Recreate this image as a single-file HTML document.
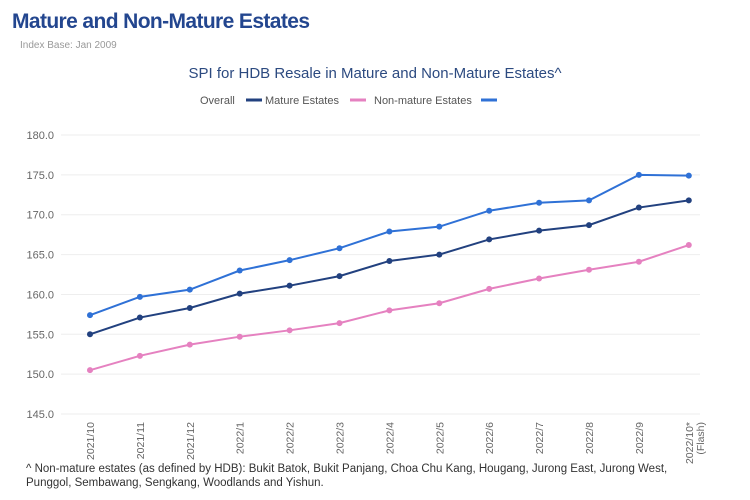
<!DOCTYPE html>
<html><head><meta charset="utf-8"><style>
body{margin:0;background:#fff;font-family:"Liberation Sans",sans-serif;}
#w{position:relative;width:750px;height:500px;overflow:hidden;}
</style></head><body><div id="w">
<svg id="s" width="750" height="500" xmlns="http://www.w3.org/2000/svg" font-family="Liberation Sans, sans-serif">
<text x="12" y="28" font-size="21" font-weight="bold" fill="#23468f" textLength="298">Mature and Non-Mature Estates</text>
<text x="20" y="48" font-size="10" fill="#999">Index Base: Jan 2009</text>
<text x="375" y="78" font-size="15" fill="#2c4a80" text-anchor="middle">SPI for HDB Resale in Mature and Non-Mature Estates^</text>
<text x="200" y="104" font-size="11" fill="#555">Overall</text>
<line x1="246" y1="100" x2="262" y2="100" stroke="#22417f" stroke-width="3"/>
<text x="265" y="104" font-size="11" fill="#555">Mature Estates</text>
<line x1="350" y1="100" x2="366" y2="100" stroke="#e581c0" stroke-width="3"/>
<text x="374" y="104" font-size="11" fill="#555">Non-mature Estates</text>
<line x1="481" y1="100" x2="497" y2="100" stroke="#2f71d6" stroke-width="3"/>
<g id="g"></g>
<text x="26" y="472" font-size="11.5" fill="#333">^ Non-mature estates (as defined by HDB): Bukit Batok, Bukit Panjang, Choa Chu Kang, Hougang, Jurong East, Jurong West,</text>
<text x="26" y="486" font-size="11.5" fill="#333">Punggol, Sembawang, Sengkang, Woodlands and Yishun.</text>
</svg></div>
<script>
var g=document.getElementById('g'),h='';
function Y(v){return 135+(180-v)*7.972;}
function X(i){return 90+i*49.9;}
for(var v=145;v<=180;v+=5){var y=Y(v);h+='<line x1="61" y1="'+y+'" x2="700" y2="'+y+'" stroke="#eee" stroke-width="1"/>';
h+='<text x="54" y="'+(y+4)+'" font-size="11" fill="#666" text-anchor="end">'+v.toFixed(1)+'</text>';}
var L=['2021/10','2021/11','2021/12','2022/1','2022/2','2022/3','2022/4','2022/5','2022/6','2022/7','2022/8','2022/9','2022/10*'];
L.forEach(function(t,i){var x=X(i)+4;h+='<text transform="translate('+x+',422) rotate(-90)" font-size="10.5" fill="#666" text-anchor="end">'+t+'</text>';});
h+='<text transform="translate('+(X(12)+15)+',422) rotate(-90)" font-size="10.5" fill="#666" text-anchor="end">(Flash)</text>';
var S=[['#e581c0',[150.5,152.3,153.7,154.7,155.5,156.4,158.0,158.9,160.7,162.0,163.1,164.1,166.2]],
['#22417f',[155.0,157.1,158.3,160.1,161.1,162.3,164.2,165.0,166.9,168.0,168.7,170.9,171.8]],
['#2f71d6',[157.4,159.7,160.6,163.0,164.3,165.8,167.9,168.5,170.5,171.5,171.8,175.0,174.9]]];
S.forEach(function(s){var p=s[1].map(function(v,i){return X(i)+','+Y(v);}).join(' ');
h+='<polyline points="'+p+'" fill="none" stroke="'+s[0]+'" stroke-width="2"/>';
s[1].forEach(function(v,i){h+='<circle cx="'+X(i)+'" cy="'+Y(v)+'" r="3" fill="'+s[0]+'"/>';});});
g.innerHTML=h;
</script></body></html>
